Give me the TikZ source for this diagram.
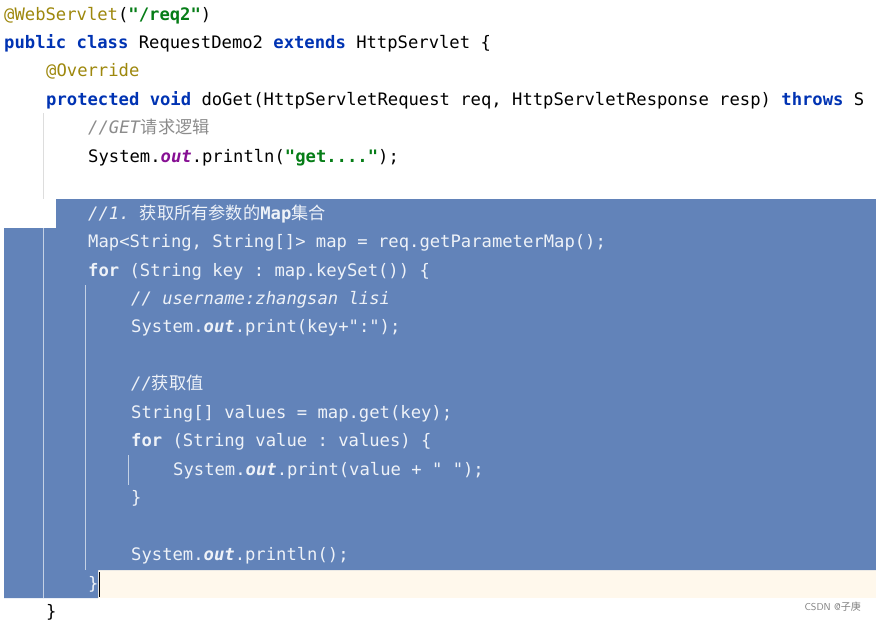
\documentclass[tikz,border=0pt]{standalone}
\usepackage{fontspec}
\setmonofont{DejaVu Sans Mono}
\newfontfamily\cjk{Noto Sans CJK SC}
\definecolor{kw}{HTML}{0033B3}
\definecolor{ann}{HTML}{9E880D}
\definecolor{str}{HTML}{067D17}
\definecolor{cmt}{HTML}{8C8C8C}
\definecolor{fld}{HTML}{871094}
\definecolor{sel}{HTML}{6283B9}
\definecolor{seltxt}{HTML}{EEF2F8}
\definecolor{cur}{HTML}{FFF8EC}
\definecolor{guide}{HTML}{DDDDDD}
\newcommand{\Kw}[1]{\textbf{\color{kw}#1}}
\newcommand{\Fld}[1]{\textbf{\textit{\color{fld}#1}}}
\newcommand{\Fls}[1]{\textbf{\textit{#1}}}
\newcommand{\codeline}[3]{\node[code] (l#1) at (#2,{14+28.45*(#1-1)+6}) {#3};}
\begin{document}
\begin{tikzpicture}[x=1pt,y=-1pt,
  code/.style={anchor=base west,inner sep=0pt,font=\ttfamily\fontsize{17.2}{20}\selectfont,text=black}]
\useasboundingbox (0,0) rectangle (876,622);
\clip (0,0) rectangle (876,622);
\fill[white] (0,0) rectangle (876,622);
\fill[cur] (98,570) rectangle (876,598);
\fill[sel] (56,199) -- (876,199) -- (876,570) -- (98,570) -- (98,598) -- (4,598) -- (4,228) -- (56,228) -- cycle;
\draw[guide,line width=0.8pt] (43,113) -- (43,199);
\draw[seltxt!70!sel,line width=0.8pt] (43,228) -- (43,598);
\draw[seltxt!70!sel,line width=0.8pt] (85,285) -- (85,570);
\draw[seltxt!70!sel,line width=0.8pt] (128,455) -- (128,485);
\draw[black,line width=1pt] (99,572) -- (99,597);
\codeline{1}{4}{{\color{ann}@WebServlet}(\textbf{\color{str}"/req2"})}
\codeline{2}{4}{\Kw{public} \Kw{class} RequestDemo2 \Kw{extends} HttpServlet \{}
\codeline{3}{46}{{\color{ann}@Override}}
\codeline{4}{46}{\Kw{protected} \Kw{void} doGet(HttpServletRequest req, HttpServletResponse resp) \Kw{throws} S}
\codeline{5}{88}{{\color{cmt}\textit{//GET}{\cjk 请求逻辑}}}
\codeline{6}{88}{System.\Fld{out}.println(\textbf{\color{str}"get...."});}
\tikzset{code/.append style={text=seltxt}}
\codeline{8}{88}{\textit{//1. }{\cjk 获取所有参数的}\textbf{Map}{\cjk 集合}}
\codeline{9}{88}{Map<String, String[]> map = req.getParameterMap();}
\codeline{10}{88}{\textbf{for} (String key : map.keySet()) \{}
\codeline{11}{131}{\textit{// username:zhangsan lisi}}
\codeline{12}{131}{System.\Fls{out}.print(key+":");}
\codeline{14}{131}{\textit{//}{\cjk 获取值}}
\codeline{15}{131}{String[] values = map.get(key);}
\codeline{16}{131}{\textbf{for} (String value : values) \{}
\codeline{17}{173}{System.\Fls{out}.print(value + " ");}
\codeline{18}{131}{\}}
\codeline{20}{131}{System.\Fls{out}.println();}
\codeline{21}{88}{\}}
\tikzset{code/.append style={text=black}}
\codeline{22}{46}{\}}
\node[anchor=base east,inner sep=0pt,font=\sffamily\fontsize{10}{12}\selectfont,text=gray] (wm) at (861,610) {CSDN @{\cjk 子庚}};
\end{tikzpicture}
\end{document}
